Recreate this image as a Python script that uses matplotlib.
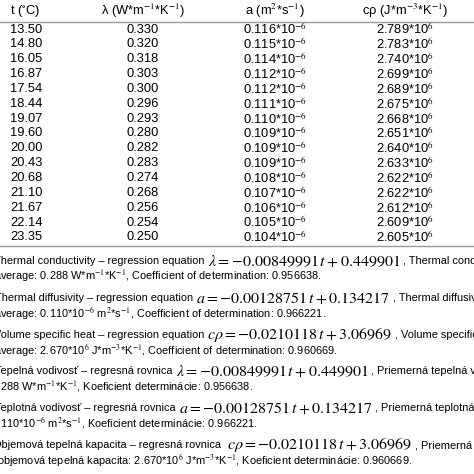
import matplotlib
matplotlib.use("Agg")
import matplotlib.pyplot as plt

plt.rcParams['font.family'] = ['Liberation Sans', 'DejaVu Sans']
plt.rcParams['mathtext.fontset'] = 'stix'

headers = [r't ($^{\circ}$C)', r'λ (W*m$^{-1}$*K$^{-1}$)', r'a (m$^{2}$*s$^{-1}$)', r'cρ (J*m$^{-3}$*K$^{-1}$)']
temps = ["13.50","14.80","16.05","16.87","17.54","18.44","19.07","19.60","20.00","20.43","20.68","21.10","21.67","22.14","23.35"]
lam = ["0.330","0.320","0.318","0.303","0.300","0.296","0.293","0.280","0.282","0.283","0.274","0.268","0.256","0.254","0.250"]
diff = ["0.116","0.115","0.114","0.112","0.112","0.111","0.110","0.109","0.109","0.109","0.108","0.107","0.106","0.105","0.104"]
cap = ["2.789","2.783","2.740","2.699","2.689","2.675","2.668","2.651","2.640","2.633","2.622","2.622","2.612","2.609","2.605"]

paras = [
    ('Thermal conductivity – regression equation ', r'$\lambda = -0.00849991\,t + 0.449901$', ' , Thermal conductivity',
     r'average: 0.288 W*m$^{-1}$*K$^{-1}$, Coefficient of determination: 0.956638.'),
    ('Thermal diffusivity – regression equation ', r'$a = -0.00128751\,t + 0.134217$', ' , Thermal diffusivity',
     r'average: 0.110*10$^{-6}$ m$^{2}$*s$^{-1}$, Coefficient of determination: 0.966221.'),
    ('Volume specific heat – regression equation ', r'$c\rho = -0.0210118\,t + 3.06969$', ' , Volume specific heat',
     r'average: 2.670*10$^{6}$ J*m$^{-3}$*K$^{-1}$, Coefficient of determination: 0.960669.'),
    ('Tepelná vodivosť – regresná rovnica ', r'$\lambda = -0.00849991\,t + 0.449901$', ' , Priemerná tepelná vodivosť:',
     r'0.288 W*m$^{-1}$*K$^{-1}$, Koeficient determinácie: 0.956638.'),
    ('Teplotná vodivosť – regresná rovnica ', r'$a = -0.00128751\,t + 0.134217$', ' , Priemerná teplotná vodivosť:',
     r'0.110*10$^{-6}$ m$^{2}$*s$^{-1}$, Koeficient determinácie: 0.966221.'),
    ('Objemová tepelná kapacita – regresná rovnica  ', r'$c\rho = -0.0210118\,t + 3.06969$', ' , Priemerná',
     r'objemová tepelná kapacita: 2.670*10$^{6}$ J*m$^{-3}$*K$^{-1}$, Koeficient determinácie: 0.960669.'),
]
para_x = [-6, -5, -6, -5, -5, -7]
para_x2 = [-6, -6, -6, -9, -9, -3]

fig = plt.figure(figsize=(4.74, 4.74), dpi=100)
ax = fig.add_axes([0, 0, 1, 1])
ax.set_xlim(0, 474)
ax.set_ylim(474, 0)
ax.axis('off')

fs = 9.3
cols_x = [10, 143, 275, 405]
for i, h in enumerate(headers):
    ax.text(cols_x[i], 11, h, ha='left' if i == 0 else 'center', va='center', fontsize=fs)
ax.plot([0, 474], [21.5, 21.5], color='#999999', lw=1)
y0, dy = 29.5, 14.85
for r in range(len(temps)):
    y = y0 + r * dy
    ax.text(10, y, temps[r], ha='left', va='center', fontsize=fs)
    ax.text(143, y, lam[r], ha='center', va='center', fontsize=fs)
    ax.text(275, y, diff[r] + r'*10$^{-6}$', ha='center', va='center', fontsize=fs)
    ax.text(405, y, cap[r] + r'*10$^{6}$', ha='center', va='center', fontsize=fs)
ax.plot([0, 474], [246, 246], color='#999999', lw=1)

pfs = 7.9
py = [261, 298, 335, 371, 408, 445]
for i, (a, eq, b, l2) in enumerate(paras):
    t1 = ax.text(para_x[i], py[i], a, ha='left', va='center', fontsize=pfs)
    t2 = ax.annotate(eq, xy=(1, 0.5), xycoords=t1, ha='left', va='center', fontsize=11.5)
    ax.annotate(b, xy=(1, 0.5), xycoords=t2, ha='left', va='center', fontsize=pfs)
    ax.text(para_x2[i], py[i] + 15.5, l2, ha='left', va='center', fontsize=pfs)

fig.savefig('out.png', dpi=100)
